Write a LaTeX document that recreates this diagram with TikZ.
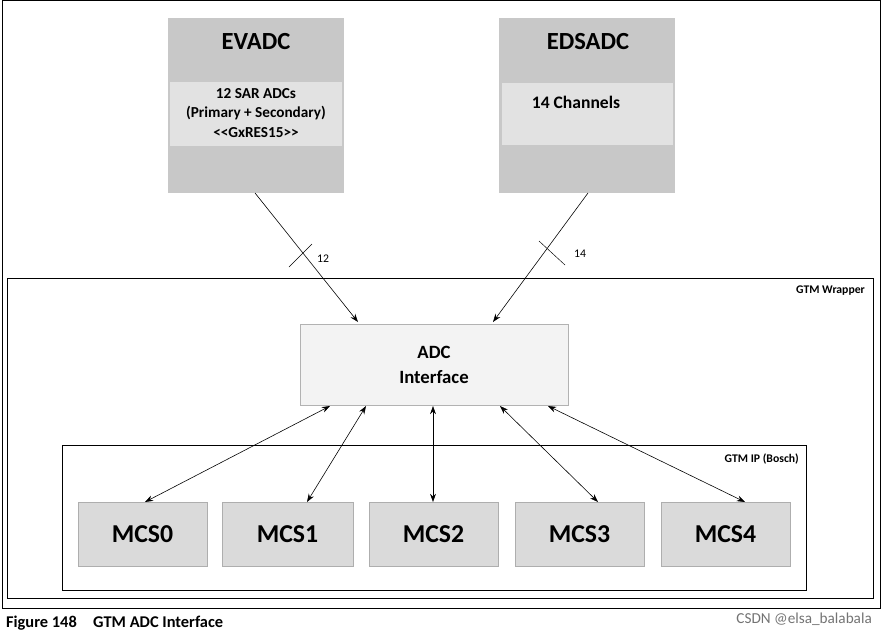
\documentclass[tikz,border=0pt]{standalone}
\usepackage{fontspec}
\setmainfont{Carlito}
\usetikzlibrary{arrows.meta,calc}
\definecolor{boxgray}{RGB}{200,200,200}
\definecolor{innergray}{RGB}{226,226,226}
\definecolor{ifgray}{RGB}{243,243,243}
\definecolor{mcsgray}{RGB}{218,218,218}
\begin{document}
\begin{tikzpicture}[x=0.03cm,y=-0.03cm,
  adc/.style={fill=boxgray,draw=none},
  inner/.style={fill=innergray,draw=none},
  mcs/.style={fill=mcsgray,draw=mcsgray!80!black,line width=0.3pt},
  frame/.style={draw=black,line width=0.6pt},
  bus/.style={-{Stealth[length=7pt,width=5pt]},line width=0.5pt},
  link/.style={{Stealth[length=7pt,width=5pt]}-{Stealth[length=7pt,width=5pt]},line width=0.5pt}]
\useasboundingbox (0,0) rectangle (883,636);
% outer frame and caption
\draw[line width=0.6pt] (2,0) rectangle (880,608);
\node[anchor=west,font=\fontsize{14}{16}\selectfont] (cap) at (2,623) {\textbf{Figure 148\quad GTM ADC Interface}};
\node[anchor=east,text=black!55,font=\fontsize{13}{15}\selectfont] (wm) at (876,619) {CSDN @elsa\_balabala};
% converters
\fill[adc] (168,18) rectangle (344,193);
\fill[inner] (170,82) rectangle (342,146);
\node[font=\bfseries\fontsize{21}{24}\selectfont] (evt) at (256,42) {EVADC};
\node[font=\bfseries\fontsize{13}{16.5}\selectfont,align=center] (evi) at (256,113) {12 SAR ADCs\\(Primary + Secondary)\\<{}<GxRES15>{}>};
\coordinate (ev) at (255,193);
\fill[adc] (499,18) rectangle (675,193);
\fill[inner] (502,83) rectangle (673,145);
\node[font=\bfseries\fontsize{21}{24}\selectfont] (edt) at (588,42) {EDSADC};
\node[font=\bfseries\fontsize{15}{18}\selectfont] (edi) at (576,102) {14 Channels};
\coordinate (ed) at (588,193);
% wrapper
\draw[frame] (7,278) rectangle (873,598);
\node[anchor=east,font=\bfseries\fontsize{10}{12}\selectfont] (wr) at (869,291) {GTM Wrapper};
\draw[fill=ifgray,draw=black!30] (300,324) rectangle (568,405);
\node[font=\bfseries\fontsize{16}{21}\selectfont,align=center] (if) at (434,365) {ADC\\Interface};
\draw[frame] (62,445) rectangle (806,590);
\node[anchor=east,font=\bfseries\fontsize{10}{12}\selectfont] (ip) at (803,459) {GTM IP (Bosch)};
% MCS
\foreach \i/\a/\b in {0/78/207,1/222/353,2/369/498,3/515/644,4/661/790}{
  \draw[mcs] (\a,502) rectangle (\b,566);
  \node[font=\bfseries\fontsize{22}{24}\selectfont] (m\i) at ({(\a+\b)/2},534) {MCS\i};
}
% buses
\draw[bus] (ev) -- (358,322);
\draw (289,267) -- (312,244);
\node[font=\fontsize{10}{12}\selectfont] (l12) at (323,259) {12};
\draw[bus] (ed) -- (493,322);
\draw (539,241) -- (565,265);
\node[font=\fontsize{10}{12}\selectfont] (l14) at (580,254) {14};
% links
\draw[link] (330,406) -- (145,502);
\draw[link] (366,406) -- (307,502);
\draw[link] (433,406) -- (433,502);
\draw[link] (500,406) -- (598,502);
\draw[link] (548,406) -- (745,502);
\end{tikzpicture}
\end{document}
